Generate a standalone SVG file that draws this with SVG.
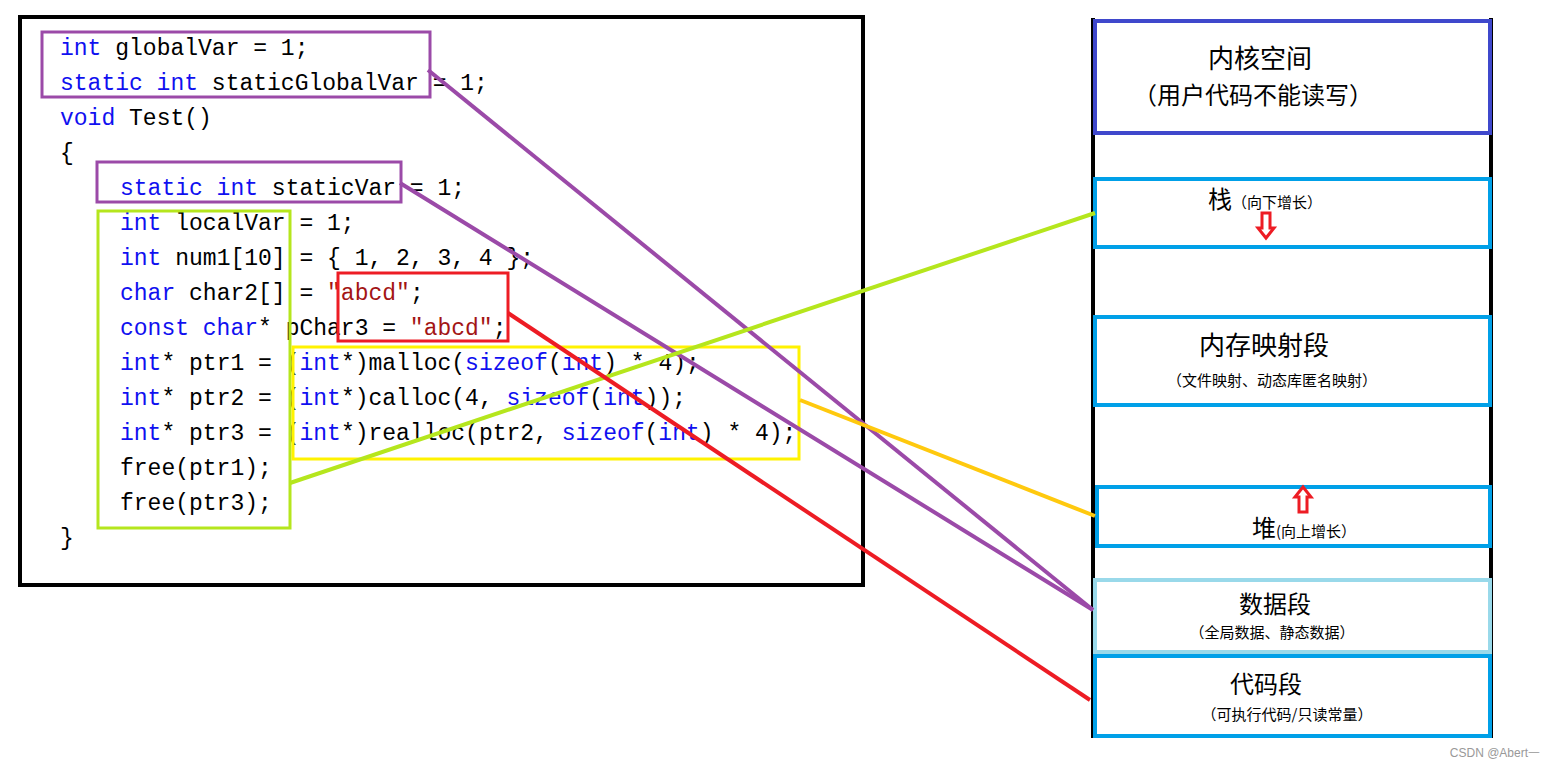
<svg xmlns="http://www.w3.org/2000/svg" width="1556" height="767" viewBox="0 0 1556 767">
<style>
.c{font-family:"Liberation Mono","Noto Sans CJK SC",monospace;font-size:23px;fill:#000;white-space:pre}
.k{fill:#1010f0}.s{fill:#a31515}
.z{font-family:"Noto Sans CJK SC",sans-serif;fill:#000}
.seg{fill:none;stroke:#00a0e8;stroke-width:4}
.ln{fill:none;stroke-width:4}
</style>
<rect width="1556" height="767" fill="#fff"/>
<g id="code">
<rect x="20" y="17" width="843" height="568" fill="#fff" stroke="#000" stroke-width="4"/>
<text class="c" x="60" y="55"><tspan class="k">int</tspan> globalVar = 1;</text>
<text class="c" x="60" y="90"><tspan class="k">static int</tspan> staticGlobalVar = 1;</text>
<text class="c" x="60" y="125"><tspan class="k">void</tspan> Test()</text>
<text class="c" x="60" y="160">{</text>
<text class="c" x="120" y="195"><tspan class="k">static int</tspan> staticVar = 1;</text>
<text class="c" x="120" y="230"><tspan class="k">int</tspan> localVar = 1;</text>
<text class="c" x="120" y="265"><tspan class="k">int</tspan> num1[10] = { 1, 2, 3, 4 };</text>
<text class="c" x="120" y="300"><tspan class="k">char</tspan> char2[] = <tspan class="s">"abcd"</tspan>;</text>
<text class="c" x="120" y="335"><tspan class="k">const char</tspan>* pChar3 = <tspan class="s">"abcd"</tspan>;</text>
<text class="c" x="120" y="370"><tspan class="k">int</tspan>* ptr1 = (<tspan class="k">int</tspan>*)malloc(<tspan class="k">sizeof</tspan>(<tspan class="k">int</tspan>) * 4);</text>
<text class="c" x="120" y="405"><tspan class="k">int</tspan>* ptr2 = (<tspan class="k">int</tspan>*)calloc(4, <tspan class="k">sizeof</tspan>(<tspan class="k">int</tspan>));</text>
<text class="c" x="120" y="440"><tspan class="k">int</tspan>* ptr3 = (<tspan class="k">int</tspan>*)realloc(ptr2, <tspan class="k">sizeof</tspan>(<tspan class="k">int</tspan>) * 4);</text>
<text class="c" x="120" y="475">free(ptr1);</text>
<text class="c" x="120" y="510">free(ptr3);</text>
<text class="c" x="60" y="545">}</text>
<rect x="42" y="32" width="388" height="65" fill="none" stroke="#9b4aa8" stroke-width="3"/>
<rect x="97" y="162" width="304" height="40" fill="none" stroke="#9b4aa8" stroke-width="3"/>
<rect x="98" y="211" width="192" height="317" fill="none" stroke="#b5e61d" stroke-width="3"/>
<rect x="338" y="273" width="170" height="68" fill="none" stroke="#ed1c24" stroke-width="3"/>
<rect x="293" y="347" width="506" height="112" fill="none" stroke="#fff200" stroke-width="3"/>
</g>
<g id="memory">
<line x1="1093" y1="18" x2="1093" y2="738" stroke="#000" stroke-width="4"/>
<line x1="1491" y1="18" x2="1491" y2="738" stroke="#000" stroke-width="4"/>
<g id="kernel"><rect x="1095" y="21" width="395" height="112" fill="#fff" stroke="#3f48cc" stroke-width="4"/>
<text class="z" x="1260" y="68" font-size="26" text-anchor="middle">内核空间</text>
<text class="z" x="1253" y="104" font-size="24" text-anchor="middle">（用户代码不能读写）</text></g>
<g id="stack"><rect class="seg" x="1095" y="179" width="395" height="68" fill="#fff"/>
<text class="z" x="1208" y="208" font-size="24">栈<tspan font-size="15">（向下增长）</tspan></text>
<path d="M1262,213 h8 v15 h4 l-8,10 l-8,-10 h4 z" fill="#fff" stroke="#ed1c24" stroke-width="3"/></g>
<g id="mmap"><rect class="seg" x="1095" y="317" width="395" height="88" fill="#fff"/>
<text class="z" x="1264" y="355" font-size="26" text-anchor="middle">内存映射段</text>
<text class="z" x="1272" y="386" font-size="15" text-anchor="middle">（文件映射、动态库匿名映射）</text></g>
<g id="heap"><rect class="seg" x="1097" y="487" width="393" height="59" fill="#fff"/>
<text class="z" x="1252" y="537" font-size="24">堆<tspan font-size="15">(向上增长）</tspan></text>
<path d="M1303,487 l8,10 h-4 v15 h-8 v-15 h-4 z" fill="#fff" stroke="#ed1c24" stroke-width="3"/></g>
<g id="data"><rect x="1095" y="580" width="395" height="72" fill="#fff" stroke="#99d9ea" stroke-width="4"/>
<text class="z" x="1275" y="613" font-size="24" text-anchor="middle">数据段</text>
<text class="z" x="1272" y="638" font-size="15" text-anchor="middle">（全局数据、静态数据）</text></g>
<g id="text"><rect class="seg" x="1095" y="656" width="395" height="80" fill="#fff"/>
<text class="z" x="1266" y="693" font-size="24" text-anchor="middle">代码段</text>
<text class="z" x="1287" y="720" font-size="15" text-anchor="middle">（可执行代码/只读常量）</text></g>
</g>
<g id="connectors">
<line class="ln" x1="428" y1="70" x2="1093" y2="610" stroke="#9b4aa8"/>
<line class="ln" x1="400" y1="183" x2="1093" y2="610" stroke="#9b4aa8"/>
<line class="ln" x1="290" y1="483" x2="1095" y2="213" stroke="#b5e61d"/>
<line class="ln" x1="800" y1="400" x2="1095" y2="516" stroke="#ffc90e"/>
<line class="ln" x1="508" y1="313" x2="1090" y2="700" stroke="#ed1c24"/>
</g>
<text x="1540" y="757" font-family="Liberation Sans,sans-serif" font-size="12" fill="#999" text-anchor="end">CSDN @Abert一</text>
</svg>
